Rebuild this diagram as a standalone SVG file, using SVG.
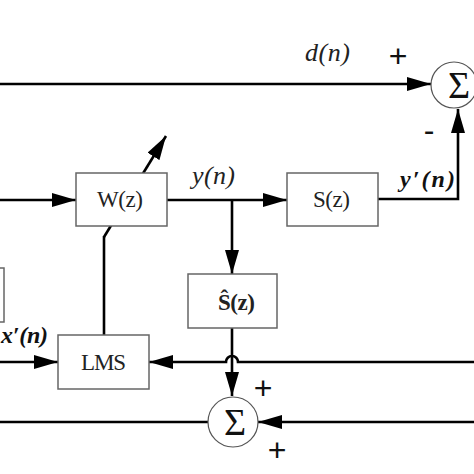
<svg xmlns="http://www.w3.org/2000/svg" width="474" height="474" viewBox="0 0 474 474">
<style>
.ln{fill:none;stroke:#000;stroke-width:2.6}
.bx{fill:#fff;stroke:#666;stroke-width:1.5}
.sum{fill:#fff;stroke:#555;stroke-width:1.2}
.lbl{font-family:"Liberation Serif",serif;font-size:23px;fill:#222}
.it{font-family:"Liberation Serif",serif;font-style:italic;font-size:26px;fill:#222}
.bi{font-family:"Liberation Serif",serif;font-style:italic;font-weight:bold;font-size:24px;fill:#111}
.sg{font-family:"Liberation Serif",serif;font-size:38px;text-anchor:middle;fill:#111}
.pm{font-family:"Liberation Sans",sans-serif;font-size:32px;text-anchor:middle;fill:#111}
</style>
<defs>
<marker id="ah" markerUnits="userSpaceOnUse" markerWidth="24" markerHeight="14" refX="24" refY="7" orient="auto">
<path d="M0,0 L24,7 L0,14 z" fill="#000"/>
</marker>
</defs>
<g id="connectors">
<line class="ln" x1="0" y1="84" x2="431" y2="84" marker-end="url(#ah)"/>
<polyline class="ln" points="378,199 458,199 458,109" marker-end="url(#ah)"/>
<line class="ln" x1="0" y1="200" x2="76" y2="200" marker-end="url(#ah)"/>
<line class="ln" x1="167" y1="200" x2="287" y2="200" marker-end="url(#ah)"/>
<line class="ln" x1="232" y1="200" x2="232" y2="274" marker-end="url(#ah)"/>
<line class="ln" x1="104" y1="237" x2="166" y2="136" marker-end="url(#ah)"/>
<line class="ln" x1="104" y1="236" x2="104" y2="335"/>
<line class="ln" x1="0" y1="362" x2="58" y2="362" marker-end="url(#ah)"/>
<path class="ln" d="M474,362 L238,362 A6,6 0 0 0 226,362 L149,362" marker-end="url(#ah)"/>
<line class="ln" x1="232" y1="328" x2="232" y2="396" marker-end="url(#ah)"/>
<line class="ln" x1="0" y1="422" x2="208" y2="422"/>
<line class="ln" x1="474" y1="422" x2="258" y2="422" marker-end="url(#ah)"/>
</g>
<g id="left-box"><rect class="bx" x="-20" y="268" width="24" height="54"/></g>
<g id="W"><rect class="bx" x="76" y="173" width="91" height="53"/><text class="lbl" x="97" y="207" textLength="46">W(z)</text></g>
<g id="S"><rect class="bx" x="287" y="173" width="91" height="53"/><text class="lbl" x="313" y="207" textLength="37">S(z)</text></g>
<g id="Shat"><rect class="bx" x="188" y="274" width="89" height="54"/><text class="lbl" x="218" y="310" font-weight="bold" textLength="37">Ŝ(z)</text></g>
<g id="LMS"><rect class="bx" x="58" y="335" width="91" height="54"/><text class="lbl" x="81" y="370" textLength="45">LMS</text></g>
<g id="sum-top"><circle class="sum" cx="454" cy="85" r="23"/><text class="sg" x="459" y="98">Σ</text></g>
<g id="sum-bottom"><circle class="sum" cx="233" cy="422" r="25"/><text class="sg" x="235" y="435">Σ</text></g>
<g id="labels">
<text class="it" x="305" y="61" textLength="45">d(n)</text>
<text class="it" x="192" y="184" textLength="43">y(n)</text>
<text class="bi" x="400" y="187" textLength="55">y′(n)</text>
<text class="bi" x="1" y="343" textLength="47">x′(n)</text>
<text class="pm" x="398" y="67">+</text>
<text class="pm" x="429" y="141">-</text>
<text class="pm" x="263" y="399">+</text>
<text class="pm" x="277" y="461">+</text>
</g>
</svg>
